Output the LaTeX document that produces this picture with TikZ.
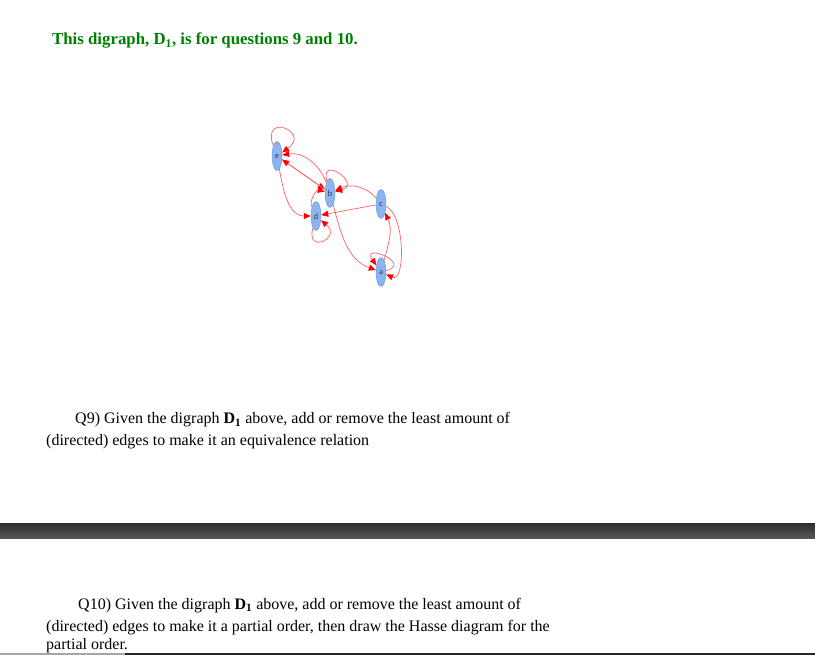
\documentclass[tikz,border=0pt]{standalone}
\usepackage{fontspec}
\setmainfont{Liberation Serif}
\usepackage{tikz}
\usetikzlibrary{shapes.geometric,arrows.meta}
\definecolor{titlegreen}{HTML}{008000}
\definecolor{vfill}{HTML}{8CB4F0}
\definecolor{vline}{HTML}{6E9BE6}
\definecolor{vtext}{HTML}{3A3A4A}
\definecolor{edgered}{HTML}{FF6060}
\definecolor{tipred}{HTML}{FF0000}
\tikzset{
  vert/.style={ellipse, draw=vline, fill=vfill, line width=0.5pt, minimum width=10pt, minimum height=29pt, inner sep=0pt, text=vtext, font=\sffamily\fontsize{9}{9}\selectfont},
  arc/.style={draw=edgered, line width=0.7pt, -{Triangle[color=tipred,length=7pt,width=6pt]}},
  body/.style={anchor=base west, inner sep=0pt, font=\fontsize{16}{19}\selectfont},
  head/.style={anchor=base west, inner sep=0pt, text=titlegreen, font=\fontsize{16.8}{20}\selectfont\bfseries}
}

\begin{document}
\begin{tikzpicture}[x=1pt,y=-1pt]
\useasboundingbox (0,0) rectangle (815,655);
% title
\node[head] (title) at (52,45) {This digraph, D\textsubscript{1}, is for questions 9 and 10.};

% vertices of D1
\node[vert] (e) at (277,156) {e};
\node[vert] (b) at (330,193) {b};
\node[vert] (d) at (316,216) {d};
\node[vert] (c) at (381,204) {c};
\node[vert] (a) at (381,272) {a};

% loops
\draw[arc] (e) to[out=110,in=35,min distance=36pt] (e);
\draw[arc] (b) to[out=105,in=15,min distance=28pt] (b);
\draw[arc] (d) to[out=255,in=320,min distance=28pt] (d);
\draw[arc] (a) to[out=15,in=125,min distance=28pt] (a);

% edges
\draw[arc] (e) -- (b);
\draw[arc] (b) -- (e);
\draw[arc] (b) to[out=110,in=10] (e);
\draw[arc] (e) to[out=-80,in=180] (d);
\draw[arc] (d) to[out=115,in=165] (b);
\draw[arc] (c) to[out=130,in=25] (b);
\draw[arc] (c) -- (d);
\draw[arc] (b) to[out=-75,in=160] (a);
\draw[arc] (a) to[out=75,in=-65] (c);
\draw[arc] (c) to[out=-25,in=-25,looseness=0.8] (a);

% questions
\node[body] (q9a) at (75,424) {Q9) Given the digraph \textbf{D\textsubscript{1}} above, add or remove the least amount of};
\node[body] (q9b) at (46,446) {(directed) edges to make it an equivalence relation};

% page break
\shade[top color=black!82, bottom color=black!66] (0,523) rectangle (815,538);

\node[body] (q10a) at (78,609) {Q10) Given the digraph \textbf{D\textsubscript{1}} above, add or remove the least amount of};
\node[body] (q10b) at (46,631) {(directed) edges to make it a partial order, then draw the Hasse diagram for the};
\node[body] (q10c) at (46,649) {partial order.};

\draw[black!35, line width=1.2pt] (0,654) -- (125,654);
\draw[black!85, line width=1.2pt] (125,654) -- (815,654);
\end{tikzpicture}
\end{document}
